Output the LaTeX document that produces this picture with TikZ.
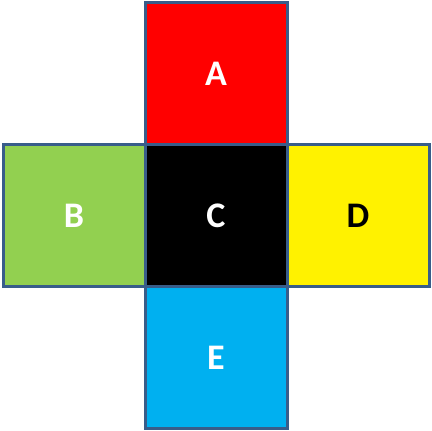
\documentclass[tikz,border=0pt]{standalone}
\usepackage{fontspec}
\setmainfont{Carlito}
\usetikzlibrary{positioning}
\definecolor{faceblue}{HTML}{00B0F0}
\definecolor{facegreen}{HTML}{92D050}
\definecolor{edgeblue}{HTML}{385D8A}

\begin{document}
\begin{tikzpicture}[
                x=1pt, y=1pt,
                face/.style = {
                    draw = edgeblue,
                    line width = 3pt,
                    fill = #1,
                    minimum size = 142pt,
                    inner sep = 0pt,
                    outer sep = 0pt,
                    text = white,
                    font = \fontsize{36}{40}\selectfont\bfseries
                },
                face/.default = black,
                node distance = {0pt}
            ]
            \useasboundingbox (0,0) rectangle (432,431);
            \node[face=black] (C) at (216,215.5) {C};
            % 
            \node[face=red, above=of C] (A) {A};
            \node[face=facegreen, left=of C] (B) {B};
            \node[face=yellow, text=black, right=of C] (D) {D};
            \node[face=faceblue, below=of C] (E) {E};
            % 
        \end{tikzpicture}
\end{document}
